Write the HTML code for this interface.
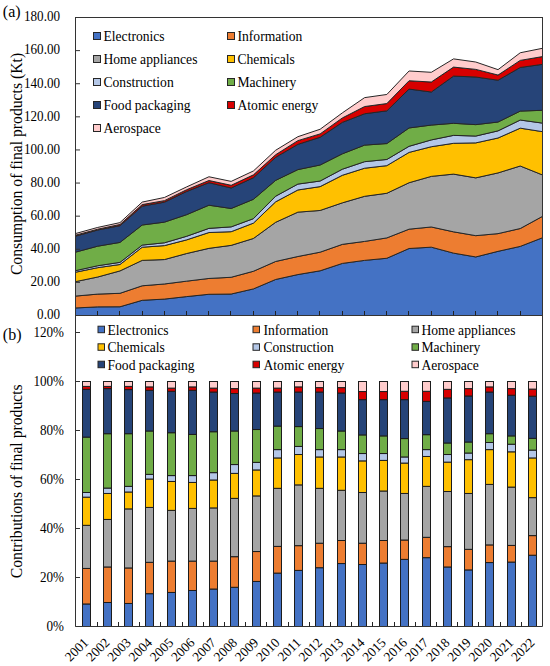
<!DOCTYPE html><html><head><meta charset="utf-8"><style>html,body{margin:0;padding:0;background:#fff;}svg{display:block;}text{font-family:"Liberation Serif", serif;fill:#000;}</style></head><body>
<svg width="550" height="666" viewBox="0 0 550 666">
<rect width="550" height="666" fill="#fff"/>
<path d="M75.50,307.96 L97.74,306.87 L119.98,306.77 L142.21,300.30 L164.45,299.09 L186.69,296.59 L208.93,294.27 L231.17,294.04 L253.40,288.91 L275.64,279.48 L297.88,274.55 L320.12,270.80 L342.36,263.42 L364.60,260.38 L386.83,258.26 L409.07,248.50 L431.31,247.16 L453.55,253.14 L475.79,256.95 L498.02,251.33 L520.26,246.40 L542.50,237.74 L542.50,315.50 L520.26,315.50 L498.02,315.50 L475.79,315.50 L453.55,315.50 L431.31,315.50 L409.07,315.50 L386.83,315.50 L364.60,315.50 L342.36,315.50 L320.12,315.50 L297.88,315.50 L275.64,315.50 L253.40,315.50 L231.17,315.50 L208.93,315.50 L186.69,315.50 L164.45,315.50 L142.21,315.50 L119.98,315.50 L97.74,315.50 L75.50,315.50 Z" fill="#4472C4" stroke="#262626" stroke-width="1" stroke-linejoin="round"/>
<path d="M75.50,296.08 L97.74,294.10 L119.98,293.30 L142.21,285.79 L164.45,283.98 L186.69,281.15 L208.93,278.46 L231.17,277.28 L253.40,271.27 L275.64,261.47 L297.88,256.50 L320.12,252.18 L342.36,244.37 L364.60,241.42 L386.83,237.92 L409.07,229.18 L431.31,226.97 L453.55,231.84 L475.79,235.66 L498.02,233.63 L520.26,228.53 L542.50,216.37 L542.50,237.74 L520.26,246.40 L498.02,251.33 L475.79,256.95 L453.55,253.14 L431.31,247.16 L409.07,248.50 L386.83,258.26 L364.60,260.38 L342.36,263.42 L320.12,270.80 L297.88,274.55 L275.64,279.48 L253.40,288.91 L231.17,294.04 L208.93,294.27 L186.69,296.59 L164.45,299.09 L142.21,300.30 L119.98,306.77 L97.74,306.87 L75.50,307.96 Z" fill="#ED7D31" stroke="#262626" stroke-width="1" stroke-linejoin="round"/>
<path d="M75.50,281.65 L97.74,277.01 L119.98,270.92 L142.21,260.38 L164.45,259.55 L186.69,253.50 L208.93,248.35 L231.17,245.37 L253.40,238.47 L275.64,222.31 L297.88,212.15 L320.12,210.46 L342.36,202.83 L364.60,196.32 L386.83,193.28 L409.07,182.72 L431.31,176.39 L453.55,174.11 L475.79,177.87 L498.02,172.91 L520.26,166.00 L542.50,174.95 L542.50,216.37 L520.26,228.53 L498.02,233.63 L475.79,235.66 L453.55,231.84 L431.31,226.97 L409.07,229.18 L386.83,237.92 L364.60,241.42 L342.36,244.37 L320.12,252.18 L297.88,256.50 L275.64,261.47 L253.40,271.27 L231.17,277.28 L208.93,278.46 L186.69,281.15 L164.45,283.98 L142.21,285.79 L119.98,293.30 L97.74,294.10 L75.50,296.08 Z" fill="#A5A5A5" stroke="#262626" stroke-width="1" stroke-linejoin="round"/>
<path d="M75.50,272.23 L97.74,267.67 L119.98,264.51 L142.21,247.23 L164.45,245.62 L186.69,239.86 L208.93,232.54 L231.17,231.69 L253.40,223.15 L275.64,201.83 L297.88,189.98 L320.12,186.61 L342.36,175.27 L364.60,168.22 L386.83,165.65 L409.07,152.40 L431.31,146.72 L453.55,143.31 L475.79,142.89 L498.02,138.00 L520.26,128.17 L542.50,131.66 L542.50,174.95 L520.26,166.00 L498.02,172.91 L475.79,177.87 L453.55,174.11 L431.31,176.39 L409.07,182.72 L386.83,193.28 L364.60,196.32 L342.36,202.83 L320.12,210.46 L297.88,212.15 L275.64,222.31 L253.40,238.47 L231.17,245.37 L208.93,248.35 L186.69,253.50 L164.45,259.55 L142.21,260.38 L119.98,270.92 L97.74,277.01 L75.50,281.65 Z" fill="#FFC000" stroke="#262626" stroke-width="1" stroke-linejoin="round"/>
<path d="M75.50,270.67 L97.74,265.74 L119.98,262.37 L142.21,245.08 L164.45,242.79 L186.69,236.26 L208.93,228.37 L231.17,226.86 L253.40,218.66 L275.64,196.21 L297.88,184.08 L320.12,181.03 L342.36,169.19 L364.60,161.68 L386.83,159.46 L409.07,146.29 L431.31,139.91 L453.55,135.36 L475.79,136.05 L498.02,130.87 L520.26,120.02 L542.50,123.11 L542.50,131.66 L520.26,128.17 L498.02,138.00 L475.79,142.89 L453.55,143.31 L431.31,146.72 L409.07,152.40 L386.83,165.65 L364.60,168.22 L342.36,175.27 L320.12,186.61 L297.88,189.98 L275.64,201.83 L253.40,223.15 L231.17,231.69 L208.93,232.54 L186.69,239.86 L164.45,245.62 L142.21,247.23 L119.98,264.51 L97.74,267.67 L75.50,272.23 Z" fill="#B4C7E7" stroke="#262626" stroke-width="1" stroke-linejoin="round"/>
<path d="M75.50,252.15 L97.74,246.18 L119.98,242.41 L142.21,225.00 L164.45,222.13 L186.69,214.65 L208.93,205.21 L231.17,208.49 L253.40,199.30 L275.64,180.35 L297.88,169.60 L320.12,165.01 L342.36,153.79 L364.60,145.12 L386.83,143.55 L409.07,127.95 L431.31,125.07 L453.55,123.30 L475.79,124.64 L498.02,122.02 L520.26,111.09 L542.50,110.29 L542.50,123.11 L520.26,120.02 L498.02,130.87 L475.79,136.05 L453.55,135.36 L431.31,139.91 L409.07,146.29 L386.83,159.46 L364.60,161.68 L342.36,169.19 L320.12,181.03 L297.88,184.08 L275.64,196.21 L253.40,218.66 L231.17,226.86 L208.93,228.37 L186.69,236.26 L164.45,242.79 L142.21,245.08 L119.98,262.37 L97.74,265.74 L75.50,270.67 Z" fill="#70AD47" stroke="#262626" stroke-width="1" stroke-linejoin="round"/>
<path d="M75.50,236.17 L97.74,229.98 L119.98,225.69 L142.21,206.18 L164.45,202.18 L186.69,191.49 L208.93,182.73 L231.17,187.97 L253.40,177.76 L275.64,157.38 L297.88,144.39 L320.12,137.26 L342.36,122.38 L364.60,113.75 L386.83,110.84 L409.07,89.07 L431.31,92.00 L453.55,76.08 L475.79,76.99 L498.02,80.22 L520.26,67.48 L542.50,64.33 L542.50,110.29 L520.26,111.09 L498.02,122.02 L475.79,124.64 L453.55,123.30 L431.31,125.07 L409.07,127.95 L386.83,143.55 L364.60,145.12 L342.36,153.79 L320.12,165.01 L297.88,169.60 L275.64,180.35 L253.40,199.30 L231.17,208.49 L208.93,205.21 L186.69,214.65 L164.45,222.13 L142.21,225.00 L119.98,242.41 L97.74,246.18 L75.50,252.15 Z" fill="#264478" stroke="#262626" stroke-width="1" stroke-linejoin="round"/>
<path d="M75.50,235.19 L97.74,229.19 L119.98,224.48 L142.21,204.59 L164.45,200.65 L186.69,189.69 L208.93,180.51 L231.17,185.29 L253.40,174.87 L275.64,154.74 L297.88,140.63 L320.12,133.91 L342.36,117.93 L364.60,106.56 L386.83,103.55 L409.07,80.76 L431.31,82.03 L453.55,67.10 L475.79,69.38 L498.02,75.06 L520.26,60.38 L542.50,56.58 L542.50,64.33 L520.26,67.48 L498.02,80.22 L475.79,76.99 L453.55,76.08 L431.31,92.00 L409.07,89.07 L386.83,110.84 L364.60,113.75 L342.36,122.38 L320.12,137.26 L297.88,144.39 L275.64,157.38 L253.40,177.76 L231.17,187.97 L208.93,182.73 L186.69,191.49 L164.45,202.18 L142.21,206.18 L119.98,225.69 L97.74,229.98 L75.50,236.17 Z" fill="#D80000" stroke="#262626" stroke-width="1" stroke-linejoin="round"/>
<path d="M75.50,233.55 L97.74,227.42 L119.98,222.62 L142.21,202.09 L164.45,197.46 L186.69,186.86 L208.93,176.76 L231.17,181.40 L253.40,170.97 L275.64,150.28 L297.88,136.70 L320.12,129.25 L342.36,112.86 L364.60,97.63 L386.83,94.48 L409.07,70.97 L431.31,72.30 L453.55,58.89 L475.79,62.03 L498.02,69.65 L520.26,52.76 L542.50,48.29 L542.50,56.58 L520.26,60.38 L498.02,75.06 L475.79,69.38 L453.55,67.10 L431.31,82.03 L409.07,80.76 L386.83,103.55 L364.60,106.56 L342.36,117.93 L320.12,133.91 L297.88,140.63 L275.64,154.74 L253.40,174.87 L231.17,185.29 L208.93,180.51 L186.69,189.69 L164.45,200.65 L142.21,204.59 L119.98,224.48 L97.74,229.19 L75.50,235.19 Z" fill="#FFCCCC" stroke="#262626" stroke-width="1" stroke-linejoin="round"/>
<rect x="75.5" y="17.5" width="467.0" height="298.0" fill="none" stroke="#333333" stroke-width="1"/>
<line x1="75.5" y1="315.50" x2="80.0" y2="315.50" stroke="#333333" stroke-width="1"/>
<text transform="translate(60 319.30) scale(1 1.050)" font-size="13.1" text-anchor="end">0.00</text>
<line x1="75.5" y1="282.39" x2="80.0" y2="282.39" stroke="#333333" stroke-width="1"/>
<text transform="translate(60 286.19) scale(1 1.050)" font-size="13.1" text-anchor="end">20.00</text>
<line x1="75.5" y1="249.28" x2="80.0" y2="249.28" stroke="#333333" stroke-width="1"/>
<text transform="translate(60 253.08) scale(1 1.050)" font-size="13.1" text-anchor="end">40.00</text>
<line x1="75.5" y1="216.17" x2="80.0" y2="216.17" stroke="#333333" stroke-width="1"/>
<text transform="translate(60 219.97) scale(1 1.050)" font-size="13.1" text-anchor="end">60.00</text>
<line x1="75.5" y1="183.06" x2="80.0" y2="183.06" stroke="#333333" stroke-width="1"/>
<text transform="translate(60 186.86) scale(1 1.050)" font-size="13.1" text-anchor="end">80.00</text>
<line x1="75.5" y1="149.94" x2="80.0" y2="149.94" stroke="#333333" stroke-width="1"/>
<text transform="translate(60 153.74) scale(1 1.050)" font-size="13.1" text-anchor="end">100.00</text>
<line x1="75.5" y1="116.83" x2="80.0" y2="116.83" stroke="#333333" stroke-width="1"/>
<text transform="translate(60 120.63) scale(1 1.050)" font-size="13.1" text-anchor="end">120.00</text>
<line x1="75.5" y1="83.72" x2="80.0" y2="83.72" stroke="#333333" stroke-width="1"/>
<text transform="translate(60 87.52) scale(1 1.050)" font-size="13.1" text-anchor="end">140.00</text>
<line x1="75.5" y1="50.61" x2="80.0" y2="50.61" stroke="#333333" stroke-width="1"/>
<text transform="translate(60 54.41) scale(1 1.050)" font-size="13.1" text-anchor="end">160.00</text>
<line x1="75.5" y1="17.50" x2="80.0" y2="17.50" stroke="#333333" stroke-width="1"/>
<text transform="translate(60 21.30) scale(1 1.050)" font-size="13.1" text-anchor="end">180.00</text>
<line x1="97.50" y1="315.5" x2="97.50" y2="311.0" stroke="#222" stroke-width="1"/>
<line x1="119.50" y1="315.5" x2="119.50" y2="311.0" stroke="#222" stroke-width="1"/>
<line x1="142.50" y1="315.5" x2="142.50" y2="311.0" stroke="#222" stroke-width="1"/>
<line x1="164.50" y1="315.5" x2="164.50" y2="311.0" stroke="#222" stroke-width="1"/>
<line x1="186.50" y1="315.5" x2="186.50" y2="311.0" stroke="#222" stroke-width="1"/>
<line x1="208.50" y1="315.5" x2="208.50" y2="311.0" stroke="#222" stroke-width="1"/>
<line x1="230.50" y1="315.5" x2="230.50" y2="311.0" stroke="#222" stroke-width="1"/>
<line x1="253.50" y1="315.5" x2="253.50" y2="311.0" stroke="#222" stroke-width="1"/>
<line x1="275.50" y1="315.5" x2="275.50" y2="311.0" stroke="#222" stroke-width="1"/>
<line x1="297.50" y1="315.5" x2="297.50" y2="311.0" stroke="#222" stroke-width="1"/>
<line x1="319.50" y1="315.5" x2="319.50" y2="311.0" stroke="#222" stroke-width="1"/>
<line x1="342.50" y1="315.5" x2="342.50" y2="311.0" stroke="#222" stroke-width="1"/>
<line x1="364.50" y1="315.5" x2="364.50" y2="311.0" stroke="#222" stroke-width="1"/>
<line x1="386.50" y1="315.5" x2="386.50" y2="311.0" stroke="#222" stroke-width="1"/>
<line x1="408.50" y1="315.5" x2="408.50" y2="311.0" stroke="#222" stroke-width="1"/>
<line x1="431.50" y1="315.5" x2="431.50" y2="311.0" stroke="#222" stroke-width="1"/>
<line x1="453.50" y1="315.5" x2="453.50" y2="311.0" stroke="#222" stroke-width="1"/>
<line x1="475.50" y1="315.5" x2="475.50" y2="311.0" stroke="#222" stroke-width="1"/>
<line x1="497.50" y1="315.5" x2="497.50" y2="311.0" stroke="#222" stroke-width="1"/>
<line x1="520.50" y1="315.5" x2="520.50" y2="311.0" stroke="#222" stroke-width="1"/>
<rect x="93.5" y="32.5" width="7" height="7" fill="#4472C4" stroke="#262626" stroke-width="1"/>
<text transform="translate(103.5 41.00) scale(1 1.040)" font-size="13.6">Electronics</text>
<rect x="227.5" y="32.5" width="7" height="7" fill="#ED7D31" stroke="#262626" stroke-width="1"/>
<text transform="translate(237.5 41.00) scale(1 1.040)" font-size="13.6">Information</text>
<rect x="93.5" y="55.5" width="7" height="7" fill="#A5A5A5" stroke="#262626" stroke-width="1"/>
<text transform="translate(103.5 64.00) scale(1 1.040)" font-size="13.6">Home appliances</text>
<rect x="227.5" y="55.5" width="7" height="7" fill="#FFC000" stroke="#262626" stroke-width="1"/>
<text transform="translate(237.5 64.00) scale(1 1.040)" font-size="13.6">Chemicals</text>
<rect x="93.5" y="78.5" width="7" height="7" fill="#B4C7E7" stroke="#262626" stroke-width="1"/>
<text transform="translate(103.5 87.00) scale(1 1.040)" font-size="13.6">Construction</text>
<rect x="227.5" y="78.5" width="7" height="7" fill="#70AD47" stroke="#262626" stroke-width="1"/>
<text transform="translate(237.5 87.00) scale(1 1.040)" font-size="13.6">Machinery</text>
<rect x="93.5" y="101.5" width="7" height="7" fill="#264478" stroke="#262626" stroke-width="1"/>
<text transform="translate(103.5 110.00) scale(1 1.040)" font-size="13.6">Food packaging</text>
<rect x="227.5" y="101.5" width="7" height="7" fill="#D80000" stroke="#262626" stroke-width="1"/>
<text transform="translate(237.5 110.00) scale(1 1.040)" font-size="13.6">Atomic energy</text>
<rect x="93.5" y="124.5" width="7" height="7" fill="#FFCCCC" stroke="#262626" stroke-width="1"/>
<text transform="translate(103.5 133.00) scale(1 1.040)" font-size="13.6">Aerospace</text>
<rect x="82.50" y="603.96" width="8" height="22.54" fill="#4472C4" stroke="#1c1c1c" stroke-width="1"/>
<rect x="82.50" y="568.43" width="8" height="35.53" fill="#ED7D31" stroke="#1c1c1c" stroke-width="1"/>
<rect x="82.50" y="525.32" width="8" height="43.12" fill="#A5A5A5" stroke="#1c1c1c" stroke-width="1"/>
<rect x="82.50" y="497.14" width="8" height="28.18" fill="#FFC000" stroke="#1c1c1c" stroke-width="1"/>
<rect x="82.50" y="492.49" width="8" height="4.65" fill="#B4C7E7" stroke="#1c1c1c" stroke-width="1"/>
<rect x="82.50" y="437.12" width="8" height="55.37" fill="#70AD47" stroke="#1c1c1c" stroke-width="1"/>
<rect x="82.50" y="389.34" width="8" height="47.77" fill="#264478" stroke="#1c1c1c" stroke-width="1"/>
<rect x="82.50" y="386.40" width="8" height="2.94" fill="#D80000" stroke="#1c1c1c" stroke-width="1"/>
<rect x="82.50" y="381.50" width="8" height="4.90" fill="#FFCCCC" stroke="#1c1c1c" stroke-width="1"/>
<rect x="103.50" y="602.49" width="8" height="24.01" fill="#4472C4" stroke="#1c1c1c" stroke-width="1"/>
<rect x="103.50" y="566.97" width="8" height="35.52" fill="#ED7D31" stroke="#1c1c1c" stroke-width="1"/>
<rect x="103.50" y="519.43" width="8" height="47.53" fill="#A5A5A5" stroke="#1c1c1c" stroke-width="1"/>
<rect x="103.50" y="493.47" width="8" height="25.97" fill="#FFC000" stroke="#1c1c1c" stroke-width="1"/>
<rect x="103.50" y="488.07" width="8" height="5.39" fill="#B4C7E7" stroke="#1c1c1c" stroke-width="1"/>
<rect x="103.50" y="433.68" width="8" height="54.39" fill="#70AD47" stroke="#1c1c1c" stroke-width="1"/>
<rect x="103.50" y="388.61" width="8" height="45.08" fill="#264478" stroke="#1c1c1c" stroke-width="1"/>
<rect x="103.50" y="386.40" width="8" height="2.21" fill="#D80000" stroke="#1c1c1c" stroke-width="1"/>
<rect x="103.50" y="381.50" width="8" height="4.90" fill="#FFCCCC" stroke="#1c1c1c" stroke-width="1"/>
<rect x="124.50" y="603.47" width="8" height="23.03" fill="#4472C4" stroke="#1c1c1c" stroke-width="1"/>
<rect x="124.50" y="567.95" width="8" height="35.52" fill="#ED7D31" stroke="#1c1c1c" stroke-width="1"/>
<rect x="124.50" y="508.90" width="8" height="59.05" fill="#A5A5A5" stroke="#1c1c1c" stroke-width="1"/>
<rect x="124.50" y="492.00" width="8" height="16.90" fill="#FFC000" stroke="#1c1c1c" stroke-width="1"/>
<rect x="124.50" y="486.36" width="8" height="5.63" fill="#B4C7E7" stroke="#1c1c1c" stroke-width="1"/>
<rect x="124.50" y="433.68" width="8" height="52.68" fill="#70AD47" stroke="#1c1c1c" stroke-width="1"/>
<rect x="124.50" y="389.58" width="8" height="44.10" fill="#264478" stroke="#1c1c1c" stroke-width="1"/>
<rect x="124.50" y="386.40" width="8" height="3.19" fill="#D80000" stroke="#1c1c1c" stroke-width="1"/>
<rect x="124.50" y="381.50" width="8" height="4.90" fill="#FFCCCC" stroke="#1c1c1c" stroke-width="1"/>
<rect x="145.50" y="593.67" width="8" height="32.83" fill="#4472C4" stroke="#1c1c1c" stroke-width="1"/>
<rect x="145.50" y="562.31" width="8" height="31.36" fill="#ED7D31" stroke="#1c1c1c" stroke-width="1"/>
<rect x="145.50" y="507.43" width="8" height="54.88" fill="#A5A5A5" stroke="#1c1c1c" stroke-width="1"/>
<rect x="145.50" y="479.01" width="8" height="28.42" fill="#FFC000" stroke="#1c1c1c" stroke-width="1"/>
<rect x="145.50" y="474.36" width="8" height="4.65" fill="#B4C7E7" stroke="#1c1c1c" stroke-width="1"/>
<rect x="145.50" y="430.99" width="8" height="43.37" fill="#70AD47" stroke="#1c1c1c" stroke-width="1"/>
<rect x="145.50" y="390.32" width="8" height="40.67" fill="#264478" stroke="#1c1c1c" stroke-width="1"/>
<rect x="145.50" y="386.89" width="8" height="3.43" fill="#D80000" stroke="#1c1c1c" stroke-width="1"/>
<rect x="145.50" y="381.50" width="8" height="5.39" fill="#FFCCCC" stroke="#1c1c1c" stroke-width="1"/>
<rect x="167.50" y="592.44" width="8" height="34.06" fill="#4472C4" stroke="#1c1c1c" stroke-width="1"/>
<rect x="167.50" y="561.09" width="8" height="31.36" fill="#ED7D31" stroke="#1c1c1c" stroke-width="1"/>
<rect x="167.50" y="510.37" width="8" height="50.72" fill="#A5A5A5" stroke="#1c1c1c" stroke-width="1"/>
<rect x="167.50" y="481.46" width="8" height="28.91" fill="#FFC000" stroke="#1c1c1c" stroke-width="1"/>
<rect x="167.50" y="475.58" width="8" height="5.88" fill="#B4C7E7" stroke="#1c1c1c" stroke-width="1"/>
<rect x="167.50" y="432.71" width="8" height="42.87" fill="#70AD47" stroke="#1c1c1c" stroke-width="1"/>
<rect x="167.50" y="391.30" width="8" height="41.41" fill="#264478" stroke="#1c1c1c" stroke-width="1"/>
<rect x="167.50" y="388.12" width="8" height="3.18" fill="#D80000" stroke="#1c1c1c" stroke-width="1"/>
<rect x="167.50" y="381.50" width="8" height="6.62" fill="#FFCCCC" stroke="#1c1c1c" stroke-width="1"/>
<rect x="188.50" y="590.49" width="8" height="36.01" fill="#4472C4" stroke="#1c1c1c" stroke-width="1"/>
<rect x="188.50" y="561.09" width="8" height="29.40" fill="#ED7D31" stroke="#1c1c1c" stroke-width="1"/>
<rect x="188.50" y="508.41" width="8" height="52.68" fill="#A5A5A5" stroke="#1c1c1c" stroke-width="1"/>
<rect x="188.50" y="482.44" width="8" height="25.97" fill="#FFC000" stroke="#1c1c1c" stroke-width="1"/>
<rect x="188.50" y="475.58" width="8" height="6.86" fill="#B4C7E7" stroke="#1c1c1c" stroke-width="1"/>
<rect x="188.50" y="434.42" width="8" height="41.16" fill="#70AD47" stroke="#1c1c1c" stroke-width="1"/>
<rect x="188.50" y="390.32" width="8" height="44.10" fill="#264478" stroke="#1c1c1c" stroke-width="1"/>
<rect x="188.50" y="386.89" width="8" height="3.43" fill="#D80000" stroke="#1c1c1c" stroke-width="1"/>
<rect x="188.50" y="381.50" width="8" height="5.39" fill="#FFCCCC" stroke="#1c1c1c" stroke-width="1"/>
<rect x="209.50" y="589.01" width="8" height="37.49" fill="#4472C4" stroke="#1c1c1c" stroke-width="1"/>
<rect x="209.50" y="561.09" width="8" height="27.93" fill="#ED7D31" stroke="#1c1c1c" stroke-width="1"/>
<rect x="209.50" y="507.92" width="8" height="53.17" fill="#A5A5A5" stroke="#1c1c1c" stroke-width="1"/>
<rect x="209.50" y="479.99" width="8" height="27.93" fill="#FFC000" stroke="#1c1c1c" stroke-width="1"/>
<rect x="209.50" y="472.64" width="8" height="7.35" fill="#B4C7E7" stroke="#1c1c1c" stroke-width="1"/>
<rect x="209.50" y="431.73" width="8" height="40.91" fill="#70AD47" stroke="#1c1c1c" stroke-width="1"/>
<rect x="209.50" y="392.03" width="8" height="39.69" fill="#264478" stroke="#1c1c1c" stroke-width="1"/>
<rect x="209.50" y="388.12" width="8" height="3.92" fill="#D80000" stroke="#1c1c1c" stroke-width="1"/>
<rect x="209.50" y="381.50" width="8" height="6.62" fill="#FFCCCC" stroke="#1c1c1c" stroke-width="1"/>
<rect x="230.50" y="587.30" width="8" height="39.20" fill="#4472C4" stroke="#1c1c1c" stroke-width="1"/>
<rect x="230.50" y="556.67" width="8" height="30.62" fill="#ED7D31" stroke="#1c1c1c" stroke-width="1"/>
<rect x="230.50" y="498.37" width="8" height="58.31" fill="#A5A5A5" stroke="#1c1c1c" stroke-width="1"/>
<rect x="230.50" y="473.38" width="8" height="24.99" fill="#FFC000" stroke="#1c1c1c" stroke-width="1"/>
<rect x="230.50" y="464.56" width="8" height="8.82" fill="#B4C7E7" stroke="#1c1c1c" stroke-width="1"/>
<rect x="230.50" y="430.99" width="8" height="33.56" fill="#70AD47" stroke="#1c1c1c" stroke-width="1"/>
<rect x="230.50" y="393.50" width="8" height="37.49" fill="#264478" stroke="#1c1c1c" stroke-width="1"/>
<rect x="230.50" y="388.61" width="8" height="4.90" fill="#D80000" stroke="#1c1c1c" stroke-width="1"/>
<rect x="230.50" y="381.50" width="8" height="7.11" fill="#FFCCCC" stroke="#1c1c1c" stroke-width="1"/>
<rect x="252.50" y="581.42" width="8" height="45.08" fill="#4472C4" stroke="#1c1c1c" stroke-width="1"/>
<rect x="252.50" y="551.53" width="8" height="29.89" fill="#ED7D31" stroke="#1c1c1c" stroke-width="1"/>
<rect x="252.50" y="495.91" width="8" height="55.62" fill="#A5A5A5" stroke="#1c1c1c" stroke-width="1"/>
<rect x="252.50" y="469.94" width="8" height="25.97" fill="#FFC000" stroke="#1c1c1c" stroke-width="1"/>
<rect x="252.50" y="462.35" width="8" height="7.59" fill="#B4C7E7" stroke="#1c1c1c" stroke-width="1"/>
<rect x="252.50" y="429.52" width="8" height="32.83" fill="#70AD47" stroke="#1c1c1c" stroke-width="1"/>
<rect x="252.50" y="393.01" width="8" height="36.50" fill="#264478" stroke="#1c1c1c" stroke-width="1"/>
<rect x="252.50" y="388.12" width="8" height="4.90" fill="#D80000" stroke="#1c1c1c" stroke-width="1"/>
<rect x="252.50" y="381.50" width="8" height="6.62" fill="#FFCCCC" stroke="#1c1c1c" stroke-width="1"/>
<rect x="273.50" y="573.09" width="8" height="53.41" fill="#4472C4" stroke="#1c1c1c" stroke-width="1"/>
<rect x="273.50" y="546.38" width="8" height="26.71" fill="#ED7D31" stroke="#1c1c1c" stroke-width="1"/>
<rect x="273.50" y="488.32" width="8" height="58.06" fill="#A5A5A5" stroke="#1c1c1c" stroke-width="1"/>
<rect x="273.50" y="457.94" width="8" height="30.38" fill="#FFC000" stroke="#1c1c1c" stroke-width="1"/>
<rect x="273.50" y="449.61" width="8" height="8.33" fill="#B4C7E7" stroke="#1c1c1c" stroke-width="1"/>
<rect x="273.50" y="426.09" width="8" height="23.52" fill="#70AD47" stroke="#1c1c1c" stroke-width="1"/>
<rect x="273.50" y="392.03" width="8" height="34.06" fill="#264478" stroke="#1c1c1c" stroke-width="1"/>
<rect x="273.50" y="388.12" width="8" height="3.92" fill="#D80000" stroke="#1c1c1c" stroke-width="1"/>
<rect x="273.50" y="381.50" width="8" height="6.62" fill="#FFCCCC" stroke="#1c1c1c" stroke-width="1"/>
<rect x="294.50" y="570.39" width="8" height="56.11" fill="#4472C4" stroke="#1c1c1c" stroke-width="1"/>
<rect x="294.50" y="545.65" width="8" height="24.75" fill="#ED7D31" stroke="#1c1c1c" stroke-width="1"/>
<rect x="294.50" y="484.89" width="8" height="60.76" fill="#A5A5A5" stroke="#1c1c1c" stroke-width="1"/>
<rect x="294.50" y="454.51" width="8" height="30.38" fill="#FFC000" stroke="#1c1c1c" stroke-width="1"/>
<rect x="294.50" y="446.42" width="8" height="8.09" fill="#B4C7E7" stroke="#1c1c1c" stroke-width="1"/>
<rect x="294.50" y="426.58" width="8" height="19.84" fill="#70AD47" stroke="#1c1c1c" stroke-width="1"/>
<rect x="294.50" y="392.03" width="8" height="34.55" fill="#264478" stroke="#1c1c1c" stroke-width="1"/>
<rect x="294.50" y="386.89" width="8" height="5.14" fill="#D80000" stroke="#1c1c1c" stroke-width="1"/>
<rect x="294.50" y="381.50" width="8" height="5.39" fill="#FFCCCC" stroke="#1c1c1c" stroke-width="1"/>
<rect x="315.50" y="567.70" width="8" height="58.80" fill="#4472C4" stroke="#1c1c1c" stroke-width="1"/>
<rect x="315.50" y="543.20" width="8" height="24.50" fill="#ED7D31" stroke="#1c1c1c" stroke-width="1"/>
<rect x="315.50" y="488.32" width="8" height="54.88" fill="#A5A5A5" stroke="#1c1c1c" stroke-width="1"/>
<rect x="315.50" y="456.96" width="8" height="31.36" fill="#FFC000" stroke="#1c1c1c" stroke-width="1"/>
<rect x="315.50" y="449.61" width="8" height="7.35" fill="#B4C7E7" stroke="#1c1c1c" stroke-width="1"/>
<rect x="315.50" y="428.54" width="8" height="21.07" fill="#70AD47" stroke="#1c1c1c" stroke-width="1"/>
<rect x="315.50" y="392.03" width="8" height="36.50" fill="#264478" stroke="#1c1c1c" stroke-width="1"/>
<rect x="315.50" y="387.62" width="8" height="4.41" fill="#D80000" stroke="#1c1c1c" stroke-width="1"/>
<rect x="315.50" y="381.50" width="8" height="6.12" fill="#FFCCCC" stroke="#1c1c1c" stroke-width="1"/>
<rect x="337.50" y="563.53" width="8" height="62.97" fill="#4472C4" stroke="#1c1c1c" stroke-width="1"/>
<rect x="337.50" y="540.50" width="8" height="23.03" fill="#ED7D31" stroke="#1c1c1c" stroke-width="1"/>
<rect x="337.50" y="490.28" width="8" height="50.23" fill="#A5A5A5" stroke="#1c1c1c" stroke-width="1"/>
<rect x="337.50" y="456.96" width="8" height="33.32" fill="#FFC000" stroke="#1c1c1c" stroke-width="1"/>
<rect x="337.50" y="449.61" width="8" height="7.35" fill="#B4C7E7" stroke="#1c1c1c" stroke-width="1"/>
<rect x="337.50" y="430.99" width="8" height="18.62" fill="#70AD47" stroke="#1c1c1c" stroke-width="1"/>
<rect x="337.50" y="393.01" width="8" height="37.98" fill="#264478" stroke="#1c1c1c" stroke-width="1"/>
<rect x="337.50" y="387.62" width="8" height="5.39" fill="#D80000" stroke="#1c1c1c" stroke-width="1"/>
<rect x="337.50" y="381.50" width="8" height="6.12" fill="#FFCCCC" stroke="#1c1c1c" stroke-width="1"/>
<rect x="358.50" y="564.51" width="8" height="61.99" fill="#4472C4" stroke="#1c1c1c" stroke-width="1"/>
<rect x="358.50" y="543.20" width="8" height="21.31" fill="#ED7D31" stroke="#1c1c1c" stroke-width="1"/>
<rect x="358.50" y="492.49" width="8" height="50.72" fill="#A5A5A5" stroke="#1c1c1c" stroke-width="1"/>
<rect x="358.50" y="460.88" width="8" height="31.61" fill="#FFC000" stroke="#1c1c1c" stroke-width="1"/>
<rect x="358.50" y="453.53" width="8" height="7.35" fill="#B4C7E7" stroke="#1c1c1c" stroke-width="1"/>
<rect x="358.50" y="434.91" width="8" height="18.62" fill="#70AD47" stroke="#1c1c1c" stroke-width="1"/>
<rect x="358.50" y="399.63" width="8" height="35.28" fill="#264478" stroke="#1c1c1c" stroke-width="1"/>
<rect x="358.50" y="391.54" width="8" height="8.09" fill="#D80000" stroke="#1c1c1c" stroke-width="1"/>
<rect x="358.50" y="381.50" width="8" height="10.04" fill="#FFCCCC" stroke="#1c1c1c" stroke-width="1"/>
<rect x="379.50" y="563.04" width="8" height="63.46" fill="#4472C4" stroke="#1c1c1c" stroke-width="1"/>
<rect x="379.50" y="540.50" width="8" height="22.54" fill="#ED7D31" stroke="#1c1c1c" stroke-width="1"/>
<rect x="379.50" y="491.01" width="8" height="49.49" fill="#A5A5A5" stroke="#1c1c1c" stroke-width="1"/>
<rect x="379.50" y="460.39" width="8" height="30.62" fill="#FFC000" stroke="#1c1c1c" stroke-width="1"/>
<rect x="379.50" y="453.53" width="8" height="6.86" fill="#B4C7E7" stroke="#1c1c1c" stroke-width="1"/>
<rect x="379.50" y="435.89" width="8" height="17.64" fill="#70AD47" stroke="#1c1c1c" stroke-width="1"/>
<rect x="379.50" y="399.63" width="8" height="36.26" fill="#264478" stroke="#1c1c1c" stroke-width="1"/>
<rect x="379.50" y="391.54" width="8" height="8.09" fill="#D80000" stroke="#1c1c1c" stroke-width="1"/>
<rect x="379.50" y="381.50" width="8" height="10.04" fill="#FFCCCC" stroke="#1c1c1c" stroke-width="1"/>
<rect x="400.50" y="559.37" width="8" height="67.13" fill="#4472C4" stroke="#1c1c1c" stroke-width="1"/>
<rect x="400.50" y="540.01" width="8" height="19.36" fill="#ED7D31" stroke="#1c1c1c" stroke-width="1"/>
<rect x="400.50" y="493.47" width="8" height="46.55" fill="#A5A5A5" stroke="#1c1c1c" stroke-width="1"/>
<rect x="400.50" y="463.08" width="8" height="30.38" fill="#FFC000" stroke="#1c1c1c" stroke-width="1"/>
<rect x="400.50" y="456.96" width="8" height="6.12" fill="#B4C7E7" stroke="#1c1c1c" stroke-width="1"/>
<rect x="400.50" y="438.58" width="8" height="18.38" fill="#70AD47" stroke="#1c1c1c" stroke-width="1"/>
<rect x="400.50" y="399.63" width="8" height="38.95" fill="#264478" stroke="#1c1c1c" stroke-width="1"/>
<rect x="400.50" y="391.30" width="8" height="8.33" fill="#D80000" stroke="#1c1c1c" stroke-width="1"/>
<rect x="400.50" y="381.50" width="8" height="9.80" fill="#FFCCCC" stroke="#1c1c1c" stroke-width="1"/>
<rect x="422.50" y="557.65" width="8" height="68.85" fill="#4472C4" stroke="#1c1c1c" stroke-width="1"/>
<rect x="422.50" y="537.32" width="8" height="20.34" fill="#ED7D31" stroke="#1c1c1c" stroke-width="1"/>
<rect x="422.50" y="486.36" width="8" height="50.96" fill="#A5A5A5" stroke="#1c1c1c" stroke-width="1"/>
<rect x="422.50" y="456.47" width="8" height="29.89" fill="#FFC000" stroke="#1c1c1c" stroke-width="1"/>
<rect x="422.50" y="449.61" width="8" height="6.86" fill="#B4C7E7" stroke="#1c1c1c" stroke-width="1"/>
<rect x="422.50" y="434.66" width="8" height="14.95" fill="#70AD47" stroke="#1c1c1c" stroke-width="1"/>
<rect x="422.50" y="401.34" width="8" height="33.32" fill="#264478" stroke="#1c1c1c" stroke-width="1"/>
<rect x="422.50" y="391.30" width="8" height="10.05" fill="#D80000" stroke="#1c1c1c" stroke-width="1"/>
<rect x="422.50" y="381.50" width="8" height="9.80" fill="#FFCCCC" stroke="#1c1c1c" stroke-width="1"/>
<rect x="443.50" y="566.97" width="8" height="59.53" fill="#4472C4" stroke="#1c1c1c" stroke-width="1"/>
<rect x="443.50" y="546.63" width="8" height="20.34" fill="#ED7D31" stroke="#1c1c1c" stroke-width="1"/>
<rect x="443.50" y="491.50" width="8" height="55.12" fill="#A5A5A5" stroke="#1c1c1c" stroke-width="1"/>
<rect x="443.50" y="462.11" width="8" height="29.40" fill="#FFC000" stroke="#1c1c1c" stroke-width="1"/>
<rect x="443.50" y="454.51" width="8" height="7.60" fill="#B4C7E7" stroke="#1c1c1c" stroke-width="1"/>
<rect x="443.50" y="443.00" width="8" height="11.51" fill="#70AD47" stroke="#1c1c1c" stroke-width="1"/>
<rect x="443.50" y="397.91" width="8" height="45.08" fill="#264478" stroke="#1c1c1c" stroke-width="1"/>
<rect x="443.50" y="389.34" width="8" height="8.57" fill="#D80000" stroke="#1c1c1c" stroke-width="1"/>
<rect x="443.50" y="381.50" width="8" height="7.84" fill="#FFCCCC" stroke="#1c1c1c" stroke-width="1"/>
<rect x="464.50" y="569.90" width="8" height="56.60" fill="#4472C4" stroke="#1c1c1c" stroke-width="1"/>
<rect x="464.50" y="549.33" width="8" height="20.58" fill="#ED7D31" stroke="#1c1c1c" stroke-width="1"/>
<rect x="464.50" y="493.47" width="8" height="55.86" fill="#A5A5A5" stroke="#1c1c1c" stroke-width="1"/>
<rect x="464.50" y="459.65" width="8" height="33.81" fill="#FFC000" stroke="#1c1c1c" stroke-width="1"/>
<rect x="464.50" y="453.04" width="8" height="6.62" fill="#B4C7E7" stroke="#1c1c1c" stroke-width="1"/>
<rect x="464.50" y="442.01" width="8" height="11.02" fill="#70AD47" stroke="#1c1c1c" stroke-width="1"/>
<rect x="464.50" y="395.95" width="8" height="46.06" fill="#264478" stroke="#1c1c1c" stroke-width="1"/>
<rect x="464.50" y="388.61" width="8" height="7.35" fill="#D80000" stroke="#1c1c1c" stroke-width="1"/>
<rect x="464.50" y="381.50" width="8" height="7.11" fill="#FFCCCC" stroke="#1c1c1c" stroke-width="1"/>
<rect x="485.50" y="562.55" width="8" height="63.95" fill="#4472C4" stroke="#1c1c1c" stroke-width="1"/>
<rect x="485.50" y="544.91" width="8" height="17.64" fill="#ED7D31" stroke="#1c1c1c" stroke-width="1"/>
<rect x="485.50" y="484.40" width="8" height="60.51" fill="#A5A5A5" stroke="#1c1c1c" stroke-width="1"/>
<rect x="485.50" y="449.61" width="8" height="34.79" fill="#FFC000" stroke="#1c1c1c" stroke-width="1"/>
<rect x="485.50" y="442.50" width="8" height="7.11" fill="#B4C7E7" stroke="#1c1c1c" stroke-width="1"/>
<rect x="485.50" y="433.68" width="8" height="8.82" fill="#70AD47" stroke="#1c1c1c" stroke-width="1"/>
<rect x="485.50" y="392.03" width="8" height="41.65" fill="#264478" stroke="#1c1c1c" stroke-width="1"/>
<rect x="485.50" y="386.89" width="8" height="5.14" fill="#D80000" stroke="#1c1c1c" stroke-width="1"/>
<rect x="485.50" y="381.50" width="8" height="5.39" fill="#FFCCCC" stroke="#1c1c1c" stroke-width="1"/>
<rect x="507.50" y="562.07" width="8" height="64.43" fill="#4472C4" stroke="#1c1c1c" stroke-width="1"/>
<rect x="507.50" y="545.40" width="8" height="16.66" fill="#ED7D31" stroke="#1c1c1c" stroke-width="1"/>
<rect x="507.50" y="487.10" width="8" height="58.31" fill="#A5A5A5" stroke="#1c1c1c" stroke-width="1"/>
<rect x="507.50" y="451.81" width="8" height="35.28" fill="#FFC000" stroke="#1c1c1c" stroke-width="1"/>
<rect x="507.50" y="444.22" width="8" height="7.60" fill="#B4C7E7" stroke="#1c1c1c" stroke-width="1"/>
<rect x="507.50" y="435.89" width="8" height="8.33" fill="#70AD47" stroke="#1c1c1c" stroke-width="1"/>
<rect x="507.50" y="395.22" width="8" height="40.67" fill="#264478" stroke="#1c1c1c" stroke-width="1"/>
<rect x="507.50" y="388.61" width="8" height="6.61" fill="#D80000" stroke="#1c1c1c" stroke-width="1"/>
<rect x="507.50" y="381.50" width="8" height="7.11" fill="#FFCCCC" stroke="#1c1c1c" stroke-width="1"/>
<rect x="528.50" y="555.21" width="8" height="71.29" fill="#4472C4" stroke="#1c1c1c" stroke-width="1"/>
<rect x="528.50" y="535.61" width="8" height="19.60" fill="#ED7D31" stroke="#1c1c1c" stroke-width="1"/>
<rect x="528.50" y="497.63" width="8" height="37.98" fill="#A5A5A5" stroke="#1c1c1c" stroke-width="1"/>
<rect x="528.50" y="457.94" width="8" height="39.69" fill="#FFC000" stroke="#1c1c1c" stroke-width="1"/>
<rect x="528.50" y="450.10" width="8" height="7.84" fill="#B4C7E7" stroke="#1c1c1c" stroke-width="1"/>
<rect x="528.50" y="438.34" width="8" height="11.76" fill="#70AD47" stroke="#1c1c1c" stroke-width="1"/>
<rect x="528.50" y="396.20" width="8" height="42.14" fill="#264478" stroke="#1c1c1c" stroke-width="1"/>
<rect x="528.50" y="389.09" width="8" height="7.11" fill="#D80000" stroke="#1c1c1c" stroke-width="1"/>
<rect x="528.50" y="381.50" width="8" height="7.59" fill="#FFCCCC" stroke="#1c1c1c" stroke-width="1"/>
<line x1="75.5" y1="315.5" x2="75.5" y2="626.5" stroke="#333333" stroke-width="1"/>
<line x1="542.5" y1="315.5" x2="542.5" y2="626.5" stroke="#333333" stroke-width="1"/>
<line x1="75.5" y1="626.5" x2="542.5" y2="626.5" stroke="#333333" stroke-width="1"/>
<line x1="75.5" y1="626.50" x2="80.0" y2="626.50" stroke="#333333" stroke-width="1"/>
<text transform="translate(64 631.20) scale(1 1.050)" font-size="13.1" text-anchor="end">0%</text>
<line x1="75.5" y1="577.50" x2="80.0" y2="577.50" stroke="#333333" stroke-width="1"/>
<text transform="translate(64 582.20) scale(1 1.050)" font-size="13.1" text-anchor="end">20%</text>
<line x1="75.5" y1="528.50" x2="80.0" y2="528.50" stroke="#333333" stroke-width="1"/>
<text transform="translate(64 533.20) scale(1 1.050)" font-size="13.1" text-anchor="end">40%</text>
<line x1="75.5" y1="479.50" x2="80.0" y2="479.50" stroke="#333333" stroke-width="1"/>
<text transform="translate(64 484.20) scale(1 1.050)" font-size="13.1" text-anchor="end">60%</text>
<line x1="75.5" y1="430.50" x2="80.0" y2="430.50" stroke="#333333" stroke-width="1"/>
<text transform="translate(64 435.20) scale(1 1.050)" font-size="13.1" text-anchor="end">80%</text>
<line x1="75.5" y1="381.50" x2="80.0" y2="381.50" stroke="#333333" stroke-width="1"/>
<text transform="translate(64 386.20) scale(1 1.050)" font-size="13.1" text-anchor="end">100%</text>
<line x1="75.5" y1="332.50" x2="80.0" y2="332.50" stroke="#333333" stroke-width="1"/>
<text transform="translate(64 337.20) scale(1 1.050)" font-size="13.1" text-anchor="end">120%</text>
<line x1="97.50" y1="626.5" x2="97.50" y2="622.0" stroke="#222" stroke-width="1"/>
<line x1="118.50" y1="626.5" x2="118.50" y2="622.0" stroke="#222" stroke-width="1"/>
<line x1="139.50" y1="626.5" x2="139.50" y2="622.0" stroke="#222" stroke-width="1"/>
<line x1="160.50" y1="626.5" x2="160.50" y2="622.0" stroke="#222" stroke-width="1"/>
<line x1="182.50" y1="626.5" x2="182.50" y2="622.0" stroke="#222" stroke-width="1"/>
<line x1="203.50" y1="626.5" x2="203.50" y2="622.0" stroke="#222" stroke-width="1"/>
<line x1="224.50" y1="626.5" x2="224.50" y2="622.0" stroke="#222" stroke-width="1"/>
<line x1="245.50" y1="626.5" x2="245.50" y2="622.0" stroke="#222" stroke-width="1"/>
<line x1="266.50" y1="626.5" x2="266.50" y2="622.0" stroke="#222" stroke-width="1"/>
<line x1="288.50" y1="626.5" x2="288.50" y2="622.0" stroke="#222" stroke-width="1"/>
<line x1="309.50" y1="626.5" x2="309.50" y2="622.0" stroke="#222" stroke-width="1"/>
<line x1="330.50" y1="626.5" x2="330.50" y2="622.0" stroke="#222" stroke-width="1"/>
<line x1="351.50" y1="626.5" x2="351.50" y2="622.0" stroke="#222" stroke-width="1"/>
<line x1="372.50" y1="626.5" x2="372.50" y2="622.0" stroke="#222" stroke-width="1"/>
<line x1="394.50" y1="626.5" x2="394.50" y2="622.0" stroke="#222" stroke-width="1"/>
<line x1="415.50" y1="626.5" x2="415.50" y2="622.0" stroke="#222" stroke-width="1"/>
<line x1="436.50" y1="626.5" x2="436.50" y2="622.0" stroke="#222" stroke-width="1"/>
<line x1="457.50" y1="626.5" x2="457.50" y2="622.0" stroke="#222" stroke-width="1"/>
<line x1="478.50" y1="626.5" x2="478.50" y2="622.0" stroke="#222" stroke-width="1"/>
<line x1="500.50" y1="626.5" x2="500.50" y2="622.0" stroke="#222" stroke-width="1"/>
<line x1="521.50" y1="626.5" x2="521.50" y2="622.0" stroke="#222" stroke-width="1"/>
<text x="89.20" y="643.40" font-size="13.4" text-anchor="end" transform="rotate(-45 89.20 643.40)">2001</text>
<text x="110.45" y="643.40" font-size="13.4" text-anchor="end" transform="rotate(-45 110.45 643.40)">2002</text>
<text x="131.70" y="643.40" font-size="13.4" text-anchor="end" transform="rotate(-45 131.70 643.40)">2003</text>
<text x="152.95" y="643.40" font-size="13.4" text-anchor="end" transform="rotate(-45 152.95 643.40)">2004</text>
<text x="174.20" y="643.40" font-size="13.4" text-anchor="end" transform="rotate(-45 174.20 643.40)">2005</text>
<text x="195.45" y="643.40" font-size="13.4" text-anchor="end" transform="rotate(-45 195.45 643.40)">2006</text>
<text x="216.70" y="643.40" font-size="13.4" text-anchor="end" transform="rotate(-45 216.70 643.40)">2007</text>
<text x="237.95" y="643.40" font-size="13.4" text-anchor="end" transform="rotate(-45 237.95 643.40)">2008</text>
<text x="259.20" y="643.40" font-size="13.4" text-anchor="end" transform="rotate(-45 259.20 643.40)">2009</text>
<text x="280.45" y="643.40" font-size="13.4" text-anchor="end" transform="rotate(-45 280.45 643.40)">2010</text>
<text x="301.70" y="643.40" font-size="13.4" text-anchor="end" transform="rotate(-45 301.70 643.40)">2011</text>
<text x="322.95" y="643.40" font-size="13.4" text-anchor="end" transform="rotate(-45 322.95 643.40)">2012</text>
<text x="344.20" y="643.40" font-size="13.4" text-anchor="end" transform="rotate(-45 344.20 643.40)">2013</text>
<text x="365.45" y="643.40" font-size="13.4" text-anchor="end" transform="rotate(-45 365.45 643.40)">2014</text>
<text x="386.70" y="643.40" font-size="13.4" text-anchor="end" transform="rotate(-45 386.70 643.40)">2015</text>
<text x="407.95" y="643.40" font-size="13.4" text-anchor="end" transform="rotate(-45 407.95 643.40)">2016</text>
<text x="429.20" y="643.40" font-size="13.4" text-anchor="end" transform="rotate(-45 429.20 643.40)">2017</text>
<text x="450.45" y="643.40" font-size="13.4" text-anchor="end" transform="rotate(-45 450.45 643.40)">2018</text>
<text x="471.70" y="643.40" font-size="13.4" text-anchor="end" transform="rotate(-45 471.70 643.40)">2019</text>
<text x="492.95" y="643.40" font-size="13.4" text-anchor="end" transform="rotate(-45 492.95 643.40)">2020</text>
<text x="514.20" y="643.40" font-size="13.4" text-anchor="end" transform="rotate(-45 514.20 643.40)">2021</text>
<text x="535.45" y="643.40" font-size="13.4" text-anchor="end" transform="rotate(-45 535.45 643.40)">2022</text>
<rect x="98.0" y="326.2" width="6.5" height="6.5" fill="#4472C4" stroke="#262626" stroke-width="1"/>
<text transform="translate(107.5 334.50) scale(1 1.040)" font-size="13.6">Electronics</text>
<rect x="253.0" y="326.2" width="6.5" height="6.5" fill="#ED7D31" stroke="#262626" stroke-width="1"/>
<text transform="translate(263.5 334.50) scale(1 1.040)" font-size="13.6">Information</text>
<rect x="412.0" y="326.2" width="6.5" height="6.5" fill="#A5A5A5" stroke="#262626" stroke-width="1"/>
<text transform="translate(421.5 334.50) scale(1 1.040)" font-size="13.6">Home appliances</text>
<rect x="98.0" y="343.8" width="6.5" height="6.5" fill="#FFC000" stroke="#262626" stroke-width="1"/>
<text transform="translate(107.5 352.00) scale(1 1.040)" font-size="13.6">Chemicals</text>
<rect x="253.0" y="343.8" width="6.5" height="6.5" fill="#B4C7E7" stroke="#262626" stroke-width="1"/>
<text transform="translate(263.5 352.00) scale(1 1.040)" font-size="13.6">Construction</text>
<rect x="412.0" y="343.8" width="6.5" height="6.5" fill="#70AD47" stroke="#262626" stroke-width="1"/>
<text transform="translate(421.5 352.00) scale(1 1.040)" font-size="13.6">Machinery</text>
<rect x="98.0" y="361.2" width="6.5" height="6.5" fill="#264478" stroke="#262626" stroke-width="1"/>
<text transform="translate(107.5 369.50) scale(1 1.040)" font-size="13.6">Food packaging</text>
<rect x="253.0" y="361.2" width="6.5" height="6.5" fill="#D80000" stroke="#262626" stroke-width="1"/>
<text transform="translate(263.5 369.50) scale(1 1.040)" font-size="13.6">Atomic energy</text>
<rect x="412.0" y="361.2" width="6.5" height="6.5" fill="#FFCCCC" stroke="#262626" stroke-width="1"/>
<text transform="translate(421.5 369.50) scale(1 1.040)" font-size="13.6">Aerospace</text>
<text x="22" y="164" font-size="15.7" text-anchor="middle" transform="rotate(-90 22 164)" dy="0">Consumption of final products (Kt)</text>
<text x="21.8" y="481.3" font-size="15.7" text-anchor="middle" transform="rotate(-90 21.8 481.3)">Contributions of final products</text>
<text x="2.8" y="16.5" font-size="16">(a)</text>
<text x="2.8" y="340.4" font-size="16">(b)</text>
</svg></body></html>
